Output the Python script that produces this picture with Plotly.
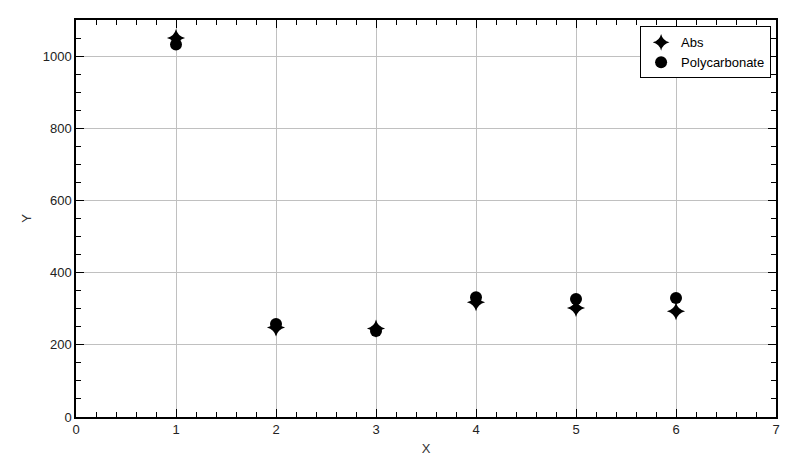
import plotly.graph_objects as go

x_vals = [1, 2, 3, 4, 5, 6]
abs_vals = [1050, 248, 245, 318, 302, 293]
poly_vals = [1032, 258, 238, 332, 327, 330]

FONT = 'Liberation Sans, Arial'

fig = go.Figure()
fig.add_trace(go.Scatter(x=x_vals, y=abs_vals, mode='markers', name='Abs',
                         marker=dict(symbol='star-diamond', size=13, color='black')))
fig.add_trace(go.Scatter(x=x_vals, y=poly_vals, mode='markers', name='Polycarbonate',
                         marker=dict(symbol='circle', size=12, color='black')))

axis_common = dict(showline=True, linecolor='black', linewidth=1.5, mirror='ticks',
                   ticks='inside', ticklen=8, tickcolor='black',
                   showgrid=True, gridcolor='#c0c0c0', gridwidth=1, zeroline=False,
                   tickfont=dict(family=FONT, size=13, color='#222'))

fig.update_xaxes(range=[0, 7], dtick=1, title=dict(text='X', standoff=8,
                 font=dict(family=FONT, size=13, color='#333')),
                 minor=dict(dtick=0.2, ticks='inside', ticklen=5, tickcolor='black', showgrid=False),
                 **axis_common)
fig.update_yaxes(range=[0, 1100], dtick=200, title=dict(text='Y', standoff=8,
                 font=dict(family=FONT, size=13, color='#333')),
                 minor=dict(dtick=50, ticks='inside', ticklen=5, tickcolor='black', showgrid=False),
                 **axis_common)

# page has ~7px body offset, so margins are shifted to keep the plot area in place
fig.update_layout(width=796, height=465, margin=dict(l=68, r=28, t=10, b=56),
                  plot_bgcolor='white', paper_bgcolor='white',
                  font=dict(family=FONT, size=13, color='black'),
                  legend=dict(x=0.993, y=0.984, xanchor='right', yanchor='top',
                              bordercolor='black', borderwidth=1, bgcolor='white',
                              tracegroupgap=0, itemsizing='constant', itemwidth=30))

fig.write_html("out.html")
